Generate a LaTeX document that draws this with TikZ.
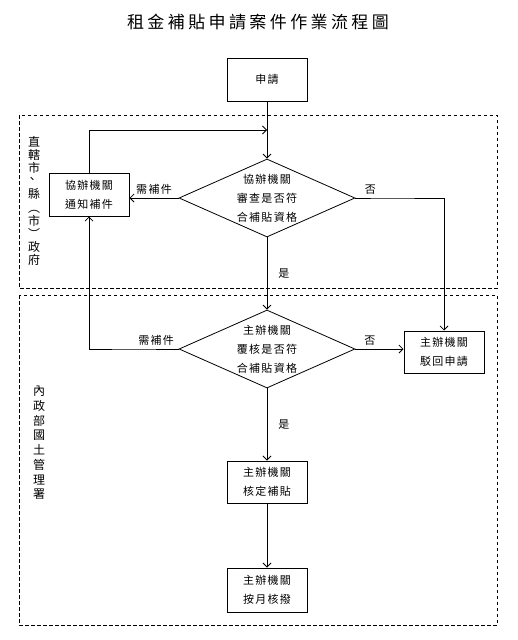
\documentclass[tikz,border=0pt]{standalone}
\usepackage{fontspec}
\setmainfont{Noto Sans CJK TC}
\usetikzlibrary{shapes.geometric,arrows.meta}
\newcommand{\boxfont}{\fontsize{11}{19}\selectfont\addfontfeature{LetterSpace=12}}
\newcommand{\titlefont}{\fontsize{17}{20}\selectfont\addfontfeature{LetterSpace=20}}
\newcommand{\vcomma}{\makebox[12pt][l]{\hspace*{-2pt}\raisebox{2pt}{、}}}
\tikzset{
  box/.style={draw,line width=1pt,minimum width=80pt,minimum height=43pt,
    inner sep=0pt,align=center,font=\boxfont},
  check/.style={draw,diamond,line width=0.8pt,shape aspect=2.26,minimum width=176pt,
    minimum height=78pt,inner sep=0pt,align=center,font=\boxfont},
  arr/.style={line width=0.8pt,-{Straight Barb[length=4pt,width=8pt]}},
  lbl/.style={font=\boxfont,inner sep=3pt},
  zone/.style={line width=0.8pt,dash pattern=on 3.5pt off 2.5pt},
}

\begin{document}
\begin{tikzpicture}[x=1pt,y=-1pt]
    \useasboundingbox (0,0) rectangle (517,640);
    \node[font=\titlefont] (title) at (258,22) {租金補貼申請案件作業流程圖};

    % zones
    \draw[zone] (19,115) rectangle (497,288);
    \draw[zone] (19,295) rectangle (497,625);
    \node[font=\fontsize{12}{13.2}\selectfont,align=center,inner sep=0pt] (cityzone) at (34,201)
      {直\\轄\\市\\\vcomma\\縣\\︵\\市\\︶\\政\\府};
    \node[font=\fontsize{12}{14.7}\selectfont,align=center,inner sep=0pt] (nlmazone) at (39,443)
      {內\\政\\部\\國\\土\\管\\理\\署};

    % steps
    \node[box] (apply) at (267,79.5) {申請};
    \node[box] (notify) at (89,194.5) {協辦機關\\通知補件};
    \node[check] (check1) at (267,198) {協辦機關\\審查是否符\\合補貼資格};
    \node[check] (check2) at (267,349) {主辦機關\\覆核是否符\\合補貼資格};
    \node[box,minimum height=42pt] (reject) at (444,352) {主辦機關\\駁回申請};
    \node[box,minimum height=42pt] (approve) at (267,482) {主辦機關\\核定補貼};
    \node[box,minimum height=44pt] (pay) at (267,590) {主辦機關\\按月核撥};
    \coordinate (loop) at (apply.south |- 0,130);

    % connectors
    \draw[arr] (apply) -- (check1);
    \draw[arr] (check1.west) -- node[lbl,above]{需補件} (check1.west -| notify.east);
    \draw[arr] (notify.north) |- (loop);
    \draw[arr] (check1.east) -- node[lbl,above]{否} ++(30,0) -| (reject.north);
    \draw[arr] (check1.south) -- node[lbl,right=8pt]{是} (check2.north);
    \draw[arr] (check2.west) -- node[lbl,above]{需補件} ++(-45,0) -| (notify.south);
    \draw[arr] (check2.east) -- node[lbl,above,pos=0.3]{否} (check2.east -| reject.west);
    \draw[arr] (check2.south) -- node[lbl,right=8pt]{是} (approve.north);
    \draw[arr] (approve) -- (pay);
\end{tikzpicture}
\end{document}
